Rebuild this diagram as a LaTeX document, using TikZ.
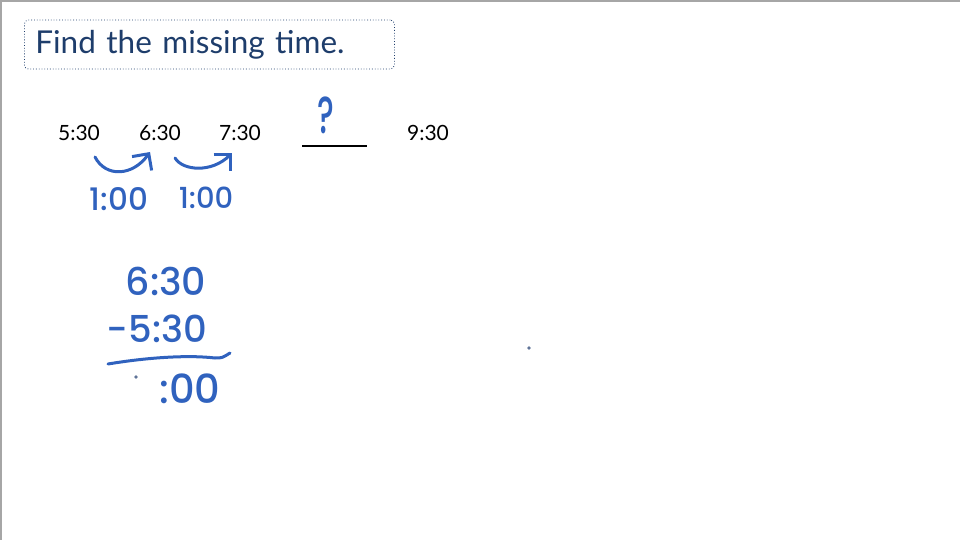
\documentclass[tikz,border=0pt]{standalone}
\usepackage{fontspec}
\setmainfont{Lato}
\newfontfamily\handfont{Poppins}[UprightFont=* Medium]
\usetikzlibrary{arrows.meta}
\definecolor{titleblue}{HTML}{1E3D6B}
\definecolor{penblue}{HTML}{3062BE}
\tikzset{
    titlebox/.style = {draw=gray!70, dotted, rounded corners=4pt, line width=0.8pt},
    timelabel/.style = {font={\fontsize{21}{25}\selectfont}, black, anchor=base, inner sep=0pt},
    handtext/.style = {font={\handfont\fontsize{#1}{#1}\selectfont}, penblue, anchor=base, inner sep=0pt},
    pen/.style = {draw=penblue, line width=3pt, line cap=round, line join=round},
    hop/.style = {pen, -{Straight Barb[length=12pt, width=24pt, line width=3pt]}},
}
\begin{document}
\begin{tikzpicture}[x=1pt, y=-1pt]
    \useasboundingbox (0,0) rectangle (960,540);
    % frame of the slide
    \draw[gray!70, line width=2pt] (1,540) -- (1,1) -- (960,1);

    % title
    \node[titlebox, anchor=west, text width=348pt, inner xsep=11pt,
          minimum height=49pt, align=left, titleblue,
          font={\fontsize{31.5}{34}\selectfont}] (title) at (24,44.5)
          {\raisebox{-2pt}{\textcolor{titleblue}{Find the missing time.}}};

    % the sequence
    \node[timelabel] (t530) at (79,141) {5:30};
    \node[timelabel] (t630) at (160,141) {6:30};
    \node[timelabel] (t730) at (240,141) {7:30};
    \node[timelabel] (t930) at (428,141) {9:30};
    \coordinate (blankL) at (302,146);
    \coordinate (blankR) at (367,146);
    \draw[black, line width=1.6pt] (blankL) -- (blankR);
    \node[handtext=52] (qmark) at (326,134) {\scalebox{0.6}[1]{?}};

    % hops between the times
    \draw[hop] ([shift={(16,16)}]t530.base)
        .. controls (106,178) and (133,176) .. ([shift={(-10,11)}]t630.base);
    \draw[hop] ([shift={(15,17)}]t630.base)
        .. controls (183,171) and (212,173) .. ([shift={(-8,12)}]t730.base);
    \node[handtext=31] (diffa) at (119,210) {1:00};
    \node[handtext=29] (diffb) at (206,208) {1:00};

    % subtraction
    \node[handtext=38] (topnum) at (166,295) {6:30};
    \node[handtext=37] (subnum) at (157,342) {-5:30};
    \coordinate (ruleL) at (108,364);
    \coordinate (ruleR) at (230,353);
    \draw[pen] (ruleL) .. controls (150,357) and (190,355) .. (215,358)
        .. controls (222,358) .. (ruleR);
    \node[handtext=40] (result) at (190,403) {:00};

    % stray specks
    \fill[penblue!40!gray] (136,377) circle (1.8);
    \fill[penblue!40!gray] (529,348) circle (1.8);
\end{tikzpicture}
\end{document}
